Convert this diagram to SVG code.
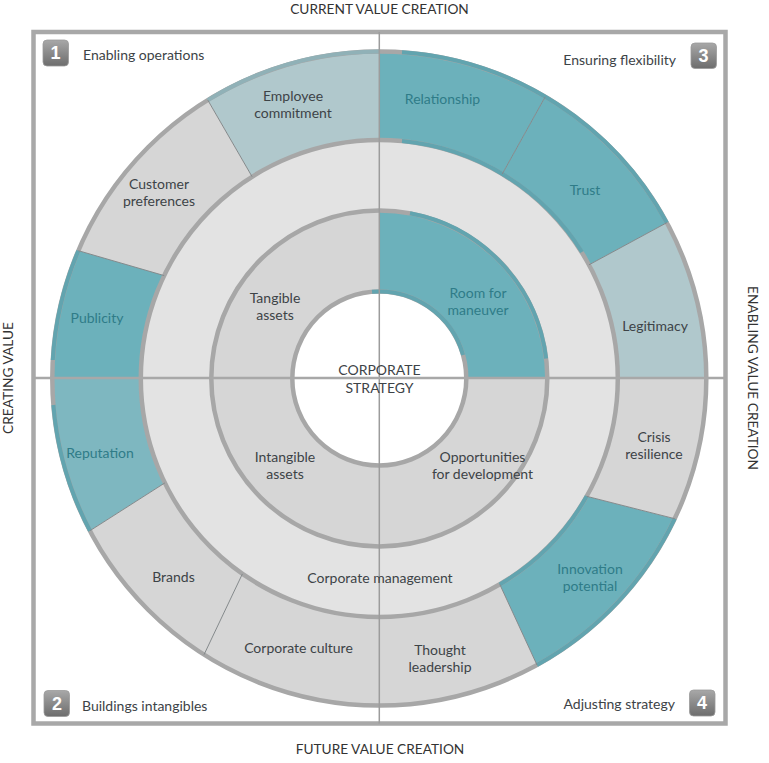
<svg xmlns="http://www.w3.org/2000/svg" width="769" height="763" viewBox="0 0 769 763">
<style>
text{font-family:"Lato","Open Sans","Liberation Sans",sans-serif;font-size:14px;fill:#3d4347;text-anchor:middle}
.t text,text.t{fill:#2f7c88}
.s{text-anchor:start}
.e{text-anchor:end}
.ax{font-size:13.7px;fill:#333}
.g{fill:#d6d6d6}.l{fill:#e3e3e3}.p{fill:#b0c8cc}.q{fill:#6cb1bb}.r{fill:#7eb7c0}
.ring{fill:none;stroke:#a7a7a7;stroke-width:4.5}
.tr{fill:none;stroke:#62a4af;stroke-width:4}
.div{stroke:#84898b;stroke-width:1;fill:none}
.ba{fill:url(#bg);stroke:#9a9a9a;stroke-width:.8}
.n{fill:#fff;font:bold 18px "Liberation Sans",sans-serif}
</style>
<defs>
<linearGradient id="bg" x1="0" y1="0" x2="0" y2="1"><stop offset="0" stop-color="#a8a8a8"/><stop offset="1" stop-color="#6d6d6d"/></linearGradient>
</defs>
<rect width="769" height="763" fill="#fff"/>
<g id="corporate-management"><circle cx="379.3" cy="378.5" r="238.5" class="l"/></g>
<g id="employee-commitment"><path class="p" d="M379.3 51.5A327 327 0 0 0 207.8 100.1L252.1 176.7A238.5 238.5 0 0 1 379.3 140Z"/><text x="293" y="101">Employee</text><text x="293" y="118">commitment</text></g>
<g id="customer-preferences"><path class="g" d="M207.8 100.1A327 327 0 0 0 78.4 250.7L164.2 275.6A238.5 238.5 0 0 1 252.1 176.7Z"/><text x="159" y="189">Customer</text><text x="159" y="206">preferences</text></g>
<g id="publicity" class="t"><path class="q" d="M78.4 250.7A327 327 0 0 0 52.3 378.5L140.8 378.5A238.5 238.5 0 0 1 164.2 275.6Z"/><text x="97" y="323">Publicity</text></g>
<g id="reputation" class="t"><path class="r" d="M52.3 378.5A327 327 0 0 0 90 530.7L164.9 482.9A238.5 238.5 0 0 1 140.8 378.5Z"/><text x="100" y="458">Reputation</text></g>
<g id="brands"><path class="g" d="M90 530.7A327 327 0 0 0 204 654.7L242.4 573.9A238.5 238.5 0 0 1 164.9 482.9Z"/><text x="173.500" y="582">Brands</text></g>
<g id="corporate-culture"><path class="g" d="M204 654.7A327 327 0 0 0 379.3 705.5L379.3 617A238.5 238.5 0 0 1 242.4 573.9Z"/><text x="298.500" y="653">Corporate culture</text></g>
<g id="thought-leadership"><path class="g" d="M379.3 705.5A327 327 0 0 0 537 665L499.8 584.4A238.5 238.5 0 0 1 379.3 617Z"/><text x="440" y="655">Thought</text><text x="440" y="672">leadership</text></g>
<g id="innovation-potential" class="t"><path class="q" d="M537 665A327 327 0 0 0 674.7 518.7L586.7 496.3A238.5 238.5 0 0 1 499.8 584.4Z"/><text x="590" y="574">Innovation</text><text x="590" y="591">potential</text></g>
<g id="crisis-resilience"><path class="g" d="M674.7 518.7A327 327 0 0 0 706.3 378.5L617.8 378.5A238.5 238.5 0 0 1 586.7 496.3Z"/><text x="654" y="442">Crisis</text><text x="654" y="459">resilience</text></g>
<g id="legitimacy"><path class="p" d="M706.3 378.5A327 327 0 0 0 666.8 222.7L589 264.8A238.5 238.5 0 0 1 617.8 378.5Z"/><text x="655" y="331">Legitimacy</text></g>
<g id="trust" class="t"><path class="q" d="M666.8 222.7A327 327 0 0 0 545.2 96.8L502.2 174.1A238.5 238.5 0 0 1 589 264.8Z"/><text x="585" y="195">Trust</text></g>
<g id="relationship" class="t"><path class="q" d="M545.2 96.8A327 327 0 0 0 379.3 51.5L379.3 140A238.5 238.5 0 0 1 502.2 174.1Z"/><text x="442.500" y="104">Relationship</text></g>
<g id="tangible-assets"><path class="g" d="M379.3 210.5A168 168 0 0 0 211.3 378.5L379.3 378.5Z"/></g>
<g id="intangible-assets"><path class="g" d="M211.3 378.5A168 168 0 0 0 379.3 546.5L379.3 378.5Z"/></g>
<g id="opportunities"><path class="g" d="M379.3 546.5A168 168 0 0 0 547.3 378.5L379.3 378.5Z"/></g>
<g id="room-for-maneuver"><path class="q" d="M379.3 210.500A168 168 0 0 1 547.3 378.5L379.3 378.5Z"/></g>
<g id="corporate-strategy"><circle cx="379.3" cy="378.5" r="87" fill="#fff"/></g>
<g id="connectors">
<circle class="ring" cx="379.3" cy="378.5" r="327"/>
<circle class="ring" cx="379.3" cy="378.5" r="238.5"/>
<circle class="ring" cx="379.3" cy="378.5" r="168"/>
<circle class="ring" cx="379.3" cy="378.5" r="87"/>
<path class="tr" d="M52.8 360A327 327 0 0 1 78.400 250.7"/>
<path class="tr" d="M53.4 405A327 327 0 0 0 90 530.7"/>
<path class="tr" d="M402 52.3A327 327 0 0 1 666.8 222.7"/>
<path class="tr" d="M402 141.1A238.5 238.5 0 0 1 582 252"/>
<path class="tr" d="M410 213.3A168 168 0 0 1 546.100 358.5"/>
<path class="tr" d="M372 291.8A87 87 0 0 1 463.1 355"/>
<path class="tr" d="M674.7 518.700A327 327 0 0 1 537 665"/>
<path class="tr" d="M586.7 496.3A238.5 238.5 0 0 1 499.800 584.4"/>
<path d="M207.8 100.1A327 327 0 0 1 379.3 51.5" fill="none" stroke="#90b1b7" stroke-width="4"/>
<path class="div" d="M207.8 100.1L252.1 176.7M78.4 250.7L164.2 275.6M545.2 96.800L502.2 174.1M666.8 222.7L589 264.8M674.7 518.7L586.7 496.3M537 665L499.8 584.4M204 654.7L242.4 573.9M90 530.7L164.9 482.9"/>
<rect x="33.500" y="32" width="692" height="691.500" fill="none" stroke="#a8a8a8" stroke-width="4.500"/>
<path d="M379.3 32V723.500" stroke="#9c9c9c" stroke-width="1.500"/>
<path d="M33.500 378H725.5" stroke="#a8a8a8" stroke-width="2.500"/>
</g>
<g id="inner-labels">
<text x="275" y="303">Tangible</text><text x="275" y="320">assets</text>
<text x="285" y="462">Intangible</text><text x="285" y="479">assets</text>
<text x="482.500" y="462">Opportunities</text><text x="482.500" y="479">for development</text>
<text class="t" x="478" y="298">Room for</text><text class="t" x="478" y="315">maneuver</text>
<text x="380" y="583">Corporate management</text>
<text x="379.500" y="375">CORPORATE</text><text x="379.500" y="393">STRATEGY</text>
</g>
<g id="badge-1"><rect class="ba" x="43" y="40" width="25.500" height="26" rx="4"/><text class="n" x="55.500" y="59">1</text><text class="s" x="83" y="60">Enabling operations</text></g>
<g id="badge-2"><rect class="ba" x="44" y="690.500" width="25.500" height="26" rx="4"/><text class="n" x="57" y="710">2</text><text class="s" x="82" y="711">Buildings intangibles</text></g>
<g id="badge-3"><rect class="ba" x="691" y="43" width="25.500" height="25.500" rx="4"/><text class="n" x="703.500" y="62">3</text><text class="e" x="676" y="65">Ensuring flexibility</text></g>
<g id="badge-4"><rect class="ba" x="689.500" y="690" width="25.500" height="26" rx="4"/><text class="n" x="702" y="709">4</text><text class="e" x="675" y="709">Adjusting strategy</text></g>
<g id="axis-labels">
<text class="ax" x="379.500" y="14">CURRENT VALUE CREATION</text>
<text class="ax" x="380" y="754">FUTURE VALUE CREATION</text>
<text class="ax" transform="translate(12.500 378) rotate(-90)">CREATING VALUE</text>
<text class="ax" transform="translate(747.500 378) rotate(90)">ENABLING VALUE CREATION</text>
</g>
</svg>
